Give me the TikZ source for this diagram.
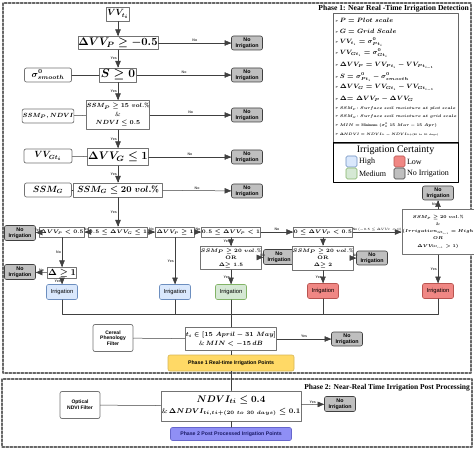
\documentclass[tikz,border=0pt]{standalone}
\usepackage{fix-cm}
\usepackage{amsmath,amssymb}
\usepackage{fontspec}
\setsansfont{Liberation Sans}
\newfontfamily\tnr{Liberation Serif}
\newfontfamily\djv{DejaVu Sans}
\usetikzlibrary{arrows}
\definecolor{highfill}{HTML}{DAE8FC}
\definecolor{highdraw}{HTML}{6C8EBF}
\definecolor{medfill}{HTML}{D5E8D4}
\definecolor{meddraw}{HTML}{82B366}
\definecolor{lowfill}{HTML}{F08784}
\definecolor{lowdraw}{HTML}{B85450}
\definecolor{ptyellow}{HTML}{FFD966}
\definecolor{ptyellowdraw}{HTML}{D6B656}
\definecolor{ptblue}{HTML}{8F8FF5}
\definecolor{ptbluedraw}{HTML}{6666CC}
\definecolor{ptbluetext}{HTML}{1A1A66}
\newcommand{\lbul}{{\djv\fontsize{4}{5}\selectfont ➢}\kern1.2pt}

\begin{document}
\begin{tikzpicture}[line cap=round,line join=round,>=triangle 45,x=1pt,y=-1pt,
  wire/.style={line width=0.5pt,black!75},
  phase/.style={dashed,dash pattern=on 2.5pt off 1.5pt,line width=1.1pt,black!60},
  cond/.style={draw=black!55,line width=0.8pt,fill=white,inner sep=0.5pt,align=center},
  inbox/.style={draw=black!55,line width=0.7pt,rounded corners=2pt,fill=white,inner sep=0.5pt,align=center},
  noirr/.style={draw=black!75,line width=0.6pt,rounded corners=2pt,fill=black!25,align=center,inner sep=0.5pt,
    minimum width=31pt,minimum height=14pt,font=\sffamily\bfseries\fontsize{5.3}{5.8}\selectfont},
  irr/.style={line width=0.6pt,rounded corners=2pt,minimum width=31pt,minimum height=15pt,inner sep=0.5pt,
    font=\sffamily\fontsize{5.8}{6}\selectfont},
  irrhigh/.style={irr,draw=highdraw,fill=highfill},
  irrmed/.style={irr,draw=meddraw,fill=medfill},
  irrlow/.style={irr,draw=lowdraw,fill=lowfill},
  ptbox/.style={line width=0.6pt,rounded corners=2pt,inner sep=0.5pt,font=\sffamily\bfseries\fontsize{5.2}{5.6}\selectfont},
  sfb/.style={font=\sffamily\bfseries\fontsize{5}{5.6}\selectfont},
  yn/.style={font=\sffamily\bfseries\fontsize{3.6}{4}\selectfont,inner sep=0.8pt},
  mbig/.style={font=\fontsize{11}{12}\selectfont\boldmath},
  mmid/.style={font=\fontsize{9}{10}\selectfont\boldmath},
  msm/.style={font=\fontsize{5.2}{6}\selectfont\boldmath},
  mtiny/.style={font=\fontsize{4.3}{7.2}\selectfont\boldmath},
  ttl/.style={font=\tnr\bfseries\fontsize{7.6}{8}\selectfont,inner sep=0pt},
  defn/.style={anchor=west,inner sep=0pt,font=\fontsize{6.2}{8}\selectfont\boldmath},
  defsm/.style={anchor=west,inner sep=0pt,font=\fontsize{3.8}{5}\selectfont\boldmath},
  swatch/.style={rounded corners=1.5pt,line width=0.6pt,minimum width=11pt,minimum height=11pt,inner sep=0pt},
  legtxt/.style={anchor=west,inner sep=1.5pt,font=\tnr\fontsize{8}{9}\selectfont}]
\useasboundingbox (0,0) rectangle (474,449);

% phase frames
\draw[phase] (3,3) rectangle (471,373);
\draw[phase] (2,379) rectangle (472,447);
\node[ttl,anchor=east] (ttl1) at (469,9) {Phase 1: Near Real -Time Irrigation Detection};
\node[ttl,anchor=east,font=\tnr\bfseries\fontsize{7.5}{8}\selectfont] (ttl2) at (470,388) {Phase 2: Near-Real Time Irrigation Post Processing};

% definitions
\draw[black!60,line width=0.6pt] (333,13) rectangle (458,143);
\node[defn] (d1) at (335,20) {\lbul$P = Plot\ scale$};
\node[defn] (d2) at (335,31) {\lbul$G = Grid\ Scale$};
\node[defn] (d3) at (335,42) {\lbul$VV_{t_i} = \sigma^0_{Pt_i}$};
\node[defn] (d4) at (335,53) {\lbul$VV_{Gt_i} = \sigma^0_{Gt_i}$};
\node[defn] (d5) at (335,66) {\lbul$\Delta VV_P = VV_{Pt_i} - VV_{Pt_{i-1}}$};
\node[defn] (d6) at (335,77) {\lbul$S = \sigma^0_{Pt_i} - \sigma^0_{smooth}$};
\node[defn] (d7) at (335,88) {\lbul$\Delta VV_G = VV_{Gt_i} - VV_{Gt_{i-1}}$};
\node[defn] (d8) at (335,99) {\lbul$\Delta{=}\ \Delta VV_P - \Delta VV_G$};
\node[defsm] (d9) at (335,109) {\lbul$SSM_P\!: Surface\ soil\ moisture\ at\ plot\ scale$};
\node[defsm] (d10) at (335,117) {\lbul$SSM_G\!: Surface\ soil\ moisture\ at\ grid\ scale$};
\node[defsm] (d11) at (335,125.5) {\lbul$MIN = \mathrm{Minimum}\ (\sigma^0_0\ 15\ Mar - 15\ Apr)$};
\node[defsm,font=\fontsize{3.4}{4.5}\selectfont\boldmath] (d12) at (335,134.5) {\lbul$\Delta NDVI = NDVI_{ti} - NDVI_{ti+(20\ to\ 30\ days)}$};

% certainty legend
\draw[line width=1pt] (333,143) rectangle (458,183);
\node[font=\tnr\fontsize{10}{11}\selectfont,inner sep=0pt] (certt) at (395.5,150) {Irrigation Certainty};
\node[swatch,draw=highdraw,fill=highfill] (swh) at (351.5,161.5) {};
\node[legtxt] (lh) at (swh.east) {High};
\node[swatch,draw=lowdraw,fill=lowfill] (swl) at (399.5,161.5) {};
\node[legtxt] (ll) at (swl.east) {Low};
\node[swatch,draw=meddraw,fill=medfill] (swm) at (351.5,173.5) {};
\node[legtxt] (lm) at (swm.east) {Medium};
\node[swatch,draw=black!75,fill=black!25] (swn) at (399.5,173.5) {};
\node[legtxt] (ln) at (swn.east) {No Irrigation};

% main column
\node[cond,mmid,minimum width=21pt,minimum height=14pt] (vvt) at (118,14) {$VV_{t_i}$};
\node[cond,mbig,minimum width=79pt,minimum height=13pt] (dvvp) at (118,43) {$\Delta VV_P \geq -0.5$};
\node[noirr] (ni1) at (247,43) {No\\Irrigation};
\node[cond,mbig,font=\fontsize{12}{13}\selectfont\boldmath,minimum width=37pt,minimum height=14pt] (s0) at (118,75) {$S \geq 0$};
\node[inbox,mmid,minimum width=47pt,minimum height=14pt] (sig) at (48,75) {$\sigma^0_{smooth}$};
\node[noirr] (ni2) at (247,75) {No\\Irrigation};
\node[cond,font=\fontsize{6}{8.5}\selectfont\boldmath,minimum width=63pt,minimum height=29pt] (ssmp) at (118,115) {$SSM_P \geq 15\ vol.\%$\\\&\\$NDVI \leq 0.5$};
\node[inbox,font=\fontsize{6}{7}\selectfont\boldmath,minimum width=48pt,minimum height=14pt] (ssmpin) at (48,116) {$SSM_P, NDVI$};
\node[noirr] (ni3) at (247,115) {No\\Irrigation};
\node[cond,mbig,minimum width=54pt,minimum height=17pt] (dvvg) at (118,157) {$\Delta VV_G \leq 1$};
\node[inbox,mmid,minimum width=48pt,minimum height=14pt] (vvg) at (48,156) {$VV_{Gt_i}$};
\node[noirr] (ni4) at (247,157) {No\\Irrigation};
\node[cond,mmid,minimum width=89pt,minimum height=14pt] (ssmg) at (118,190) {$SSM_G \leq 20\ vol.\%$};
\node[inbox,mmid,minimum width=47pt,minimum height=14pt] (ssmgin) at (48,190) {$SSM_G$};
\node[noirr] (ni5) at (247,191) {No\\Irrigation};

\draw[wire,->] (vvt) -- (dvvp);
\draw[wire,->] (dvvp) -- node[yn,above] {No} (ni1);
\draw[wire,->] (dvvp) -- node[yn,left] {Yes} (s0);
\draw[wire] (sig) -- (s0);
\draw[wire,->] (s0) -- node[yn,above] {No} (ni2);
\draw[wire,->] (s0) -- node[yn,left] {Yes} (ssmp);
\draw[wire] (ssmpin) -- (ssmp);
\draw[wire,->] (ssmp) -- node[yn,above] {No} (ni3);
\draw[wire,->] (ssmp) -- node[yn,left] {Yes} (dvvg);
\draw[wire] (vvg) -- (dvvg);
\draw[wire,->] (dvvg) -- node[yn,above] {No} (ni4);
\draw[wire,->] (dvvg) -- node[yn,left] {Yes} (ssmg);
\draw[wire] (ssmgin) -- (ssmg);
\draw[wire,->] (ssmg) -- node[yn,above] {No} (ni5);

% decision row
\node[cond,msm,minimum width=40pt,minimum height=10pt] (pl05) at (62,232) {$\Delta VV_P < 0.5$};
\node[noirr,minimum height=15pt] (niL1) at (20,233) {No\\Irrigation};
\node[cond,msm,minimum width=56pt,minimum height=10pt] (g05) at (118,232) {$0.5 \leq \Delta VV_G \leq 1$};
\node[cond,msm,minimum width=39pt,minimum height=10pt] (pg1) at (175,232) {$\Delta VV_P \geq 1$};
\node[cond,msm,minimum width=54pt,minimum height=10pt] (p051) at (231,232) {$0.5 \leq \Delta VV_P < 1$};
\node[cond,msm,minimum width=55pt,minimum height=10pt] (p005) at (323,232) {$0 \leq \Delta VV_P < 0.5$};
\node[cond,mtiny,minimum width=64pt,minimum height=45pt] (big) at (438,232)
  {$SSM_P \geq 20\ vol.\%$\\\&\\$(Irrigation_{Gt_{i-1}} = High$\\$\boldsymbol{OR}$\\$\Delta VV_{Gt_{i-1}} > 1)$};
\node[noirr] (niT) at (438,193) {No\\Irrigation};

\draw[wire,->] (ssmg) -- node[yn,left] {Yes} (g05);
\draw[wire,->] (g05) -- node[yn,above] {No} (pl05);
\draw[wire,->] (pl05) -- node[yn,above] {Yes} (niL1);
\draw[wire,->] (g05) -- node[yn,above] {No} (pg1);
\draw[wire,->] (pg1) -- node[yn,above] {No} (p051);
\draw[wire,->] (p051) -- node[yn,above] {No} (p005);
\draw[wire,->] (p005) -- node[yn,above,font=\sffamily\bfseries\fontsize{3.2}{4}\selectfont\boldmath] {No $(-0.5 \leq \Delta VV_P < 0)$} (big);
\draw[wire,->] (big) -- node[yn,left] {No} (niT);

% second level
\node[cond,font=\fontsize{9}{10}\selectfont\boldmath,minimum width=27pt,minimum height=11pt] (dl1) at (62,273) {$\Delta \geq 1$};
\node[noirr,minimum height=15pt] (niL2) at (20,272) {No\\Irrigation};
\node[cond,font=\fontsize{5}{7.2}\selectfont\boldmath,minimum width=53pt,minimum height=23pt] (c15) at (231,258) {$SSM_P \geq 20\ vol.\%$\\\textbf{OR}\\$\Delta{\geq}\ 1.5$};
\node[noirr,minimum height=15pt] (niM) at (279,257) {No\\Irrigation};
\node[cond,font=\fontsize{5}{7.2}\selectfont\boldmath,minimum width=52pt,minimum height=24pt] (c2) at (323,258) {$SSM_P \geq 20\ vol.\%$\\\textbf{OR}\\$\Delta{\geq}\ 2$};
\node[noirr] (niR) at (372,258) {No\\Irrigation};

\draw[wire,->] (pl05) -- node[yn,left] {No} (dl1);
\draw[wire,->] (dl1) -- node[yn,above] {No} (niL2);
\draw[wire,->] (p051) -- node[yn,left] {Yes} (c15);
\draw[wire,->] (c15) -- node[yn,above] {No} (niM);
\draw[wire,->] (p005) -- (c2);
\draw[wire,->] (c2) -- node[yn,above] {No} (niR);

% irrigation outcomes
\node[irrhigh] (irrB1) at (62,292) {Irrigation};
\node[irrhigh] (irrB2) at (175,292) {Irrigation};
\node[irrmed] (irrG) at (231,292) {Irrigation};
\node[irrlow] (irrR1) at (323,291) {Irrigation};
\node[irrlow] (irrR2) at (438,291) {Irrigation};

\draw[wire,->] (dl1) -- node[yn,left] {Yes} (irrB1);
\draw[wire,->] (pg1) -- node[yn,left] {Yes} (irrB2);
\draw[wire,->] (c15) -- node[yn,left] {Yes} (irrG);
\draw[wire,->] (c2) -- node[yn,left] {Yes} (irrR1);
\draw[wire,->] (big) -- node[yn,left] {Yes} (irrR2);

\coordinate (busL) at (62,314);
\coordinate (busR) at (438,314);
\draw[wire] (irrB1) -- (busL) -- (busR) -- (irrR2);
\draw[wire] (irrB2) -- (irrB2 |- busL);
\draw[wire] (irrR1) -- (irrR1 |- busL);

% phenology filter
\node[cond,font=\fontsize{6.2}{8.5}\selectfont\boldmath,minimum width=88pt,minimum height=23pt] (cer) at (231,339) {$t_i \in [15\ April - 31\ May]$\\\&\,$MIN < -15\,dB$};
\node[inbox,sfb,minimum width=40pt,minimum height=27pt] (cerin) at (113,338) {Cereal\\Phenology\\Filter};
\node[noirr] (niC) at (347,339) {No\\Irrigation};
\node[ptbox,draw=ptyellowdraw,fill=ptyellow,minimum width=126pt,minimum height=16pt] (ph1) at (231,363) {Phase 1 Real-time Irrigation Points};

\draw[wire] (irrG) -- (cer);
\draw[wire] (cerin) -- (cer);
\draw[wire,->] (cer) -- node[yn,above] {Yes} (niC);
\draw[wire] (cer) -- (ph1);

% phase 2
\node[cond,font=\fontsize{7}{11}\selectfont\boldmath,minimum width=136pt,minimum height=30pt] (ndvi) at (231,406)
  {{\fontsize{9.5}{11}\selectfont$NDVI_{ti} \leq 0.4$}\\\&\,$\Delta NDVI_{ti,ti+(20\ to\ 30\ days)} \leq 0.1$};
\node[inbox,sfb,minimum width=40pt,minimum height=27pt] (optin) at (80,405) {Optical\\NDVI Filter};
\node[noirr,minimum height=15pt] (niN) at (340,404) {No\\Irrigation};
\node[ptbox,draw=ptbluedraw,fill=ptblue,text=ptbluetext,minimum width=121pt,minimum height=13pt] (ph2) at (231,434) {Phase 2 Post Processed Irrigation Points};

\draw[wire] (ph1) -- (ndvi);
\draw[wire] (optin) -- (ndvi);
\draw[wire,->] (ndvi) -- node[yn,above] {Yes} (niN);
\draw[wire] (ndvi) -- (ph2);
\end{tikzpicture}
\end{document}
